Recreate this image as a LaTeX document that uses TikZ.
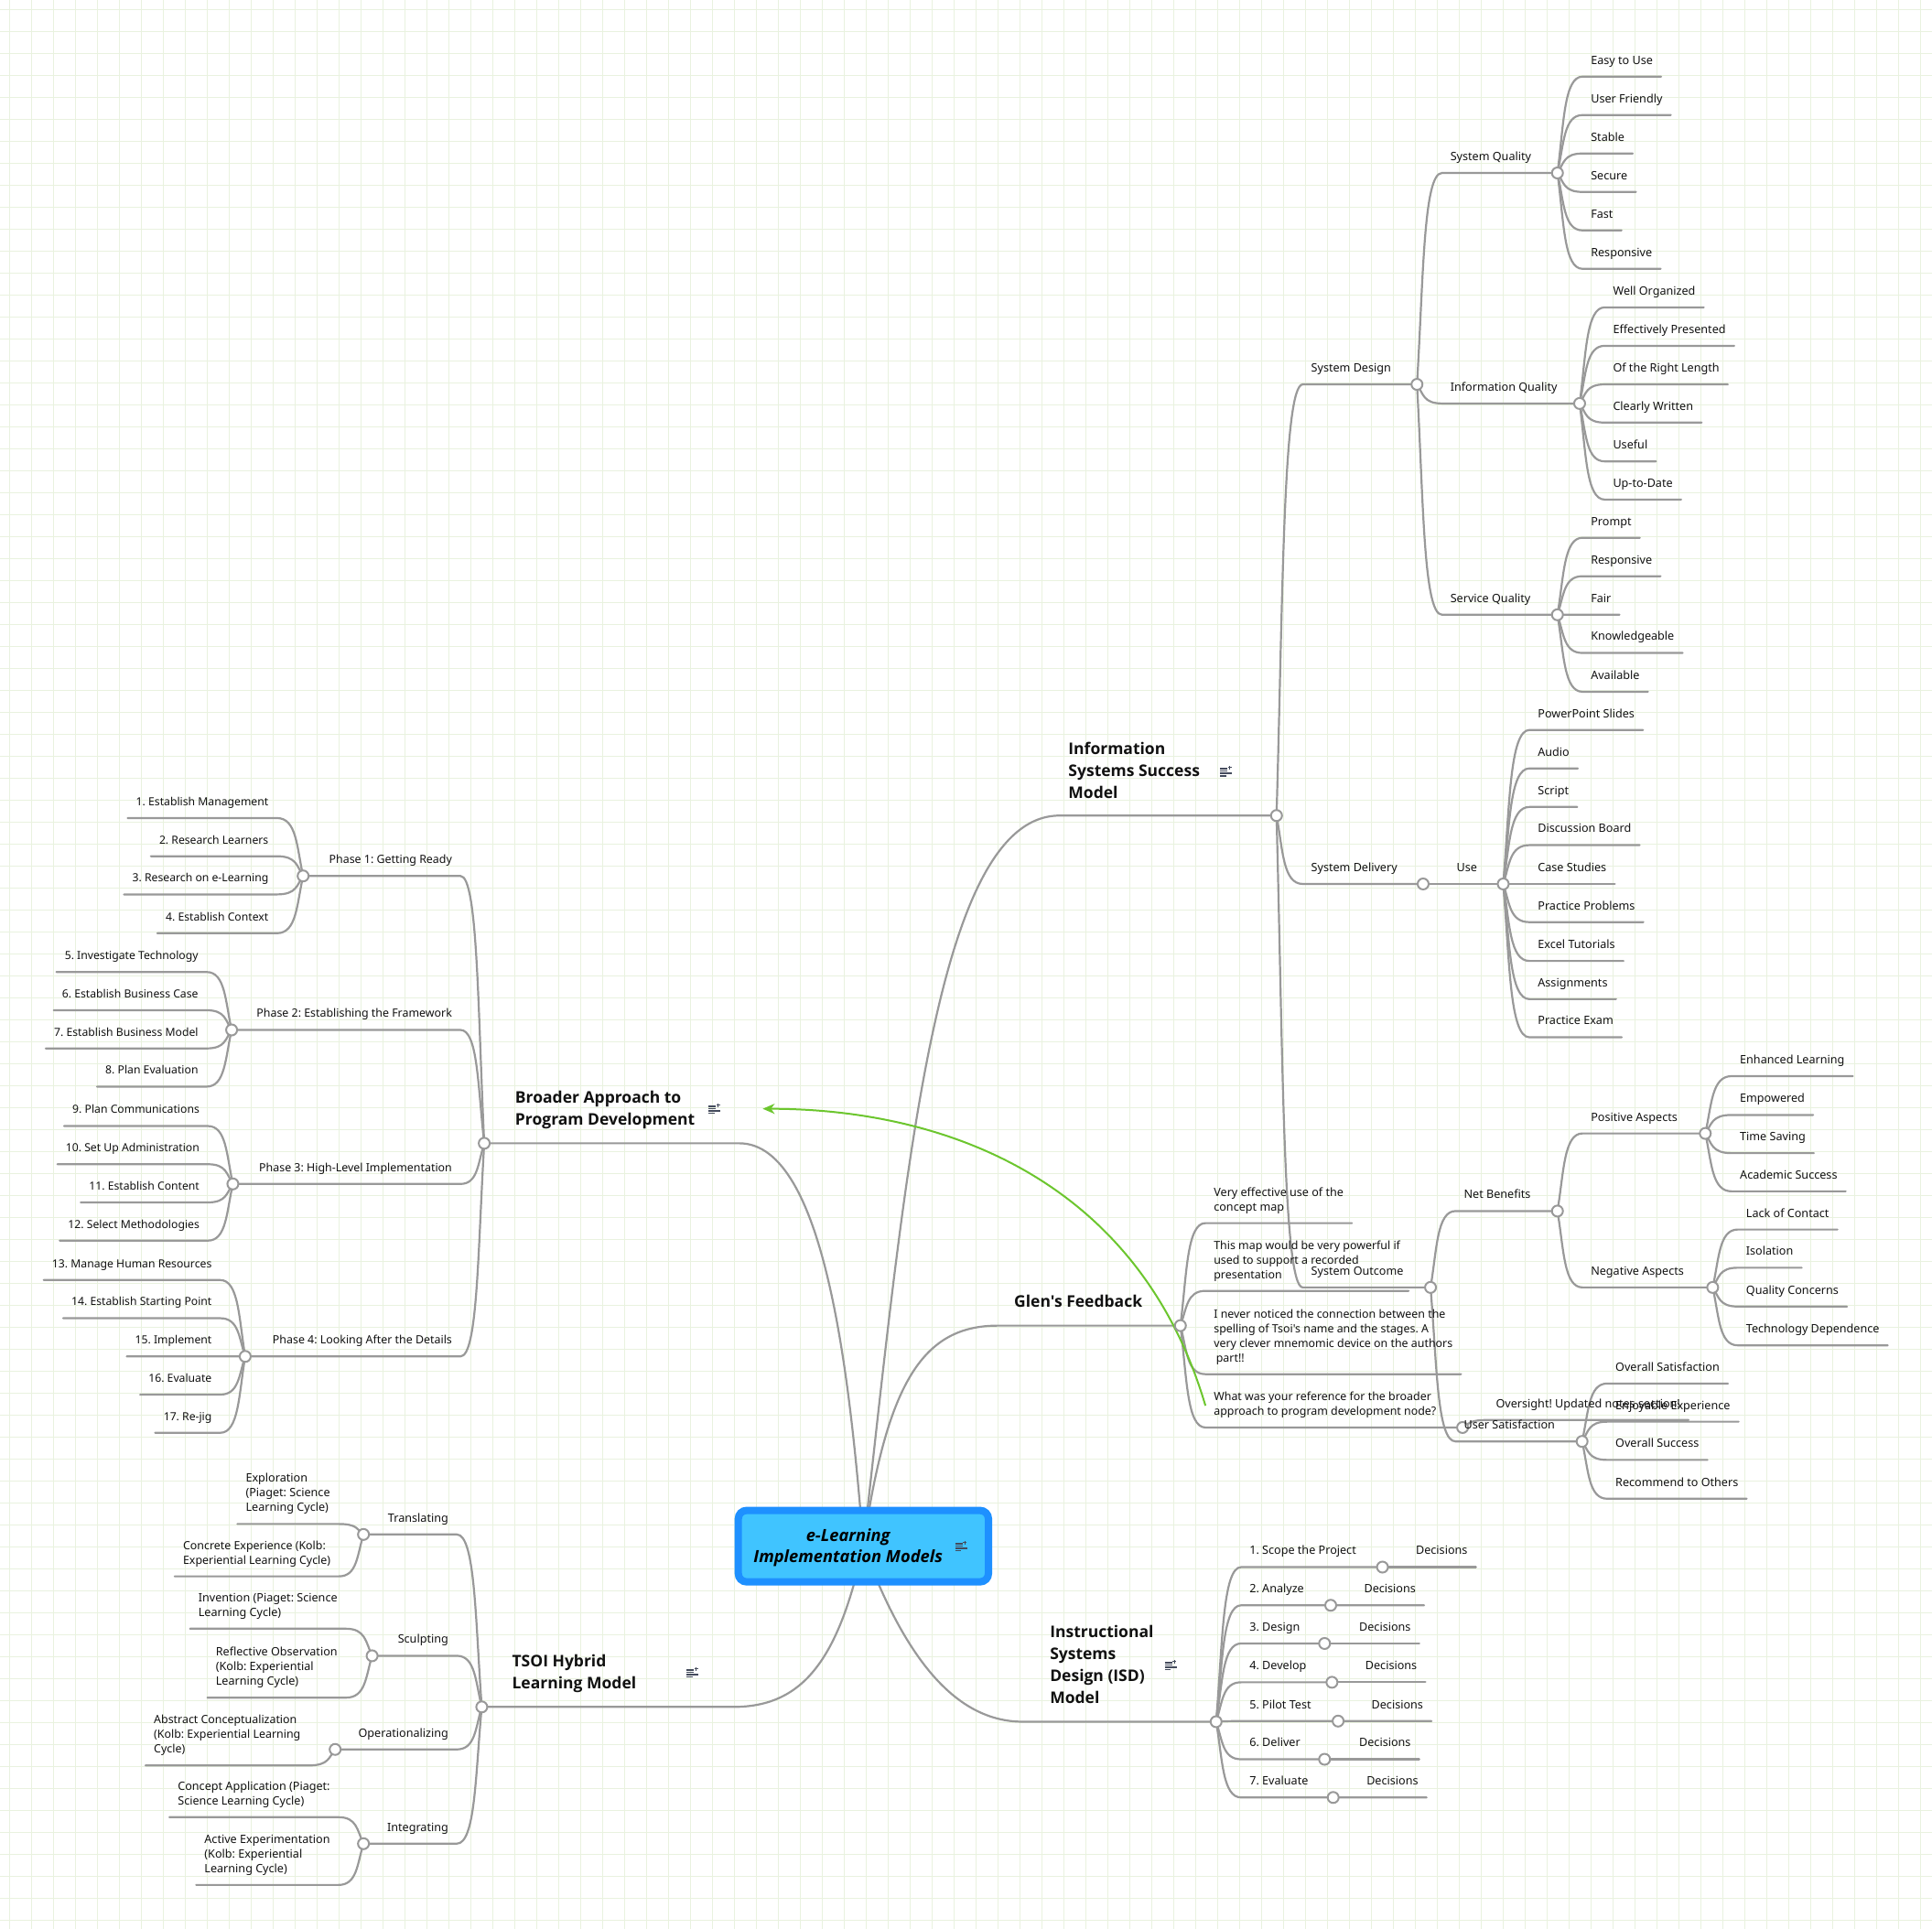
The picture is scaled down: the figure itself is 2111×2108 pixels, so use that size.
\documentclass[tikz,border=0pt]{standalone}
\usepackage{fontspec}
\usetikzlibrary{calc,arrows.meta}
\newfontfamily\mapfont{Noto Sans}
\newfontfamily\titlefont{Open Sans}
\newcommand\nsz{\fontsize{12.2}{16}\selectfont}
\newcommand\ssz{\fontsize{12.4}{16}\selectfont}
\definecolor{gridc}{HTML}{E9F2DF}
\definecolor{linec}{HTML}{999999}
\definecolor{ink}{HTML}{111111}
\definecolor{rootborder}{HTML}{1E90FF}
\definecolor{rootfill}{HTML}{40C4FF}
\definecolor{arrowc}{HTML}{6CC62E}
\definecolor{iconc}{HTML}{444B5C}
\pgfdeclarelayer{front}
\pgfdeclarelayer{labels}
\pgfsetlayers{main,front,labels}
\tikzset{
  x=1.3463pt,y=-1.3463pt,
  conn/.style={draw=linec,line width=2.2pt,line cap=round},
  branch/.style={to path={let \p1=(\tikztostart),\p2=(\tikztotarget),\n1={(\x2>\x1)*2-1} in
     .. controls ({\x1+\n1*7pt},{0.5*\y1+0.5*\y2}) and ({\x1+\n1*7pt},\y2) .. (\tikztotarget)}},
  leaf/.style={font=\mapfont\frenchspacing\fontsize{12.6}{16}\selectfont,align=left,text=ink,inner xsep=9pt,inner ysep=8.4pt,
     execute at end node={\vrule height 0pt depth 5pt width 0pt}},
  topic/.style={font=\titlefont\bfseries\fontsize{17.5}{24}\selectfont,align=left,text=ink,inner xsep=0pt,inner ysep=15pt,
     execute at end node={\vrule height 0pt depth 5pt width 0pt}},
  jn/.style={circle,draw=linec,fill=white,line width=2pt,minimum size=12pt,inner sep=0pt},
  rootbox/.style={rectangle,rounded corners=9pt,draw=rootborder,fill=rootfill,line width=8pt,minimum width=273.3pt,minimum height=78pt,inner sep=0pt},
  rootlabel/.style={font=\titlefont\bfseries\itshape\fontsize{18.3}{23}\selectfont,align=center,text=black,inner sep=0pt},
  note/.pic={
    \draw[iconc,line width=1.5pt] (-6.5pt,2.7pt) -- (1.5pt,2.7pt) (-6.5pt,0.2pt) -- (1.5pt,0.2pt)
       (-6.5pt,-2.4pt) -- (6.5pt,-2.4pt) (-6.5pt,-5pt) -- (0pt,-5pt);
    \draw[iconc,line width=1pt] (2pt,3.8pt) -- (6pt,3.8pt) (4pt,1.8pt) -- (4pt,5.8pt);
  }
}
\newcommand\rleaf[5]{%
  \begin{pgfonlayer}{labels}\node[leaf,anchor=south west] (#1) at ({#3-6.685},#4) {#5};\end{pgfonlayer}
  \draw[conn] (#2.center) to[branch] (#1.south west) -- (#1.south east);}
\newcommand\lleaf[5]{%
  \begin{pgfonlayer}{labels}\node[leaf,anchor=south east] (#1) at ({#3+6.685},#4) {#5};\end{pgfonlayer}
  \draw[conn] (#2.center) to[branch] (#1.south east) -- (#1.south west);}
\newcommand\rmid[6]{%
  \begin{pgfonlayer}{labels}\node[leaf,anchor=south west] (#1) at ({#3-6.685},#4) {#5};\end{pgfonlayer}
  \begin{pgfonlayer}{front}\node[jn] (#1j) at (#6,#4) {};\end{pgfonlayer}
  \draw[conn] (#2.center) to[branch] (#1.south west) -- (#1j.center);}
\newcommand\lmid[6]{%
  \begin{pgfonlayer}{labels}\node[leaf,anchor=south east] (#1) at ({#3+6.685},#4) {#5};\end{pgfonlayer}
  \begin{pgfonlayer}{front}\node[jn] (#1j) at (#6,#4) {};\end{pgfonlayer}
  \draw[conn] (#2.center) to[branch] (#1.south east) -- (#1j.center);}
\begin{document}
\begin{tikzpicture}
\useasboundingbox (0pt,0pt) rectangle (2111pt,-2108pt);
\fill[white] (0pt,0pt) rectangle (2111pt,-2108pt);
\foreach \i in {0,...,87} {
  \draw[gridc,line width=1.2pt] ({(10.7+24*\i)*1pt},0pt) -- ({(10.7+24*\i)*1pt},-2108pt);
  \draw[gridc,line width=1.2pt] (0pt,{(-10.7-24*\i)*1pt}) -- (2111pt,{(-10.7-24*\i)*1pt});
}
% root
\begin{pgfonlayer}{front}
\node[rootbox] (root) at (700.7,1255) {};
\node[rootlabel] (rootname) at (688.3,1256) {e-Learning\\Implementation Models};
\pic at (780,1255) {note};
\end{pgfonlayer}
% Information Systems Success Model
\node[topic,anchor=south west] (isl) at (867,663) {Information\\Systems Success\\Model};
\pic at (995,626) {note};
\begin{pgfonlayer}{front}\node[jn] (isj) at (1036,662) {};\end{pgfonlayer}
\coordinate (isb) at (860,662);
\draw[conn] (root.center) .. controls (735,950) and (760,662) .. (isb) -- (isj.center);
\rmid{sd}{isj}{1064}{312}{System Design}{1150}
\rmid{sq}{sdj}{1177}{140.4}{System Quality}{1264}
\rleaf{a1}{sqj}{1291}{62.2}{Easy to Use}
\rleaf{a2}{sqj}{1291}{93.4}{User Friendly}
\rleaf{a3}{sqj}{1291}{124.6}{Stable}
\rleaf{a4}{sqj}{1291}{155.8}{Secure}
\rleaf{a5}{sqj}{1291}{187}{Fast}
\rleaf{a6}{sqj}{1291}{218.2}{Responsive}
\rmid{iq}{sdj}{1177}{327.5}{Information Quality}{1282}
\rleaf{b1}{iqj}{1309}{249.5}{Well Organized}
\rleaf{b2}{iqj}{1309}{280.7}{Effectively Presented}
\rleaf{b3}{iqj}{1309}{312}{Of the Right Length}
\rleaf{b4}{iqj}{1309}{343}{Clearly Written}
\rleaf{b5}{iqj}{1309}{374.5}{Useful}
\rleaf{b6}{iqj}{1309}{405.5}{Up-to-Date}
\rmid{svq}{sdj}{1177}{499}{Service Quality}{1264}
\rleaf{c1}{svqj}{1291}{436.5}{Prompt}
\rleaf{c2}{svqj}{1291}{467.7}{Responsive}
\rleaf{c3}{svqj}{1291}{499}{Fair}
\rleaf{c4}{svqj}{1291}{530}{Knowledgeable}
\rleaf{c5}{svqj}{1291}{561.5}{Available}
\rmid{sdel}{isj}{1064}{717.5}{System Delivery}{1155}
\rmid{use}{sdelj}{1182}{717.5}{Use}{1220}
\rleaf{d1}{usej}{1248}{592.5}{PowerPoint Slides}
\rleaf{d2}{usej}{1248}{623.7}{Audio}
\rleaf{d3}{usej}{1248}{655}{Script}
\rleaf{d4}{usej}{1248}{686}{Discussion Board}
\rleaf{d5}{usej}{1248}{717.5}{Case Studies}
\rleaf{d6}{usej}{1248}{748.5}{Practice Problems}
\rleaf{d7}{usej}{1248}{780}{Excel Tutorials}
\rleaf{d8}{usej}{1248}{811}{Assignments}
\rleaf{d9}{usej}{1248}{842}{Practice Exam}
\rmid{so}{isj}{1064}{1045}{System Outcome}{1161}
\rmid{nb}{soj}{1188}{983}{Net Benefits}{1264}
\rmid{pa}{nbj}{1291}{920}{Positive Aspects}{1384}
\rleaf{e1}{paj}{1412}{873.5}{Enhanced Learning}
\rleaf{e2}{paj}{1412}{905}{Empowered}
\rleaf{e3}{paj}{1412}{936}{Time Saving}
\rleaf{e4}{paj}{1412}{967}{Academic Success}
\rmid{na}{nbj}{1291}{1045}{Negative Aspects}{1390}
\rleaf{f1}{naj}{1417}{998}{Lack of Contact}
\rleaf{f2}{naj}{1417}{1029}{Isolation}
\rleaf{f3}{naj}{1417}{1060.5}{Quality Concerns}
\rleaf{f4}{naj}{1417}{1092}{Technology Dependence}
\rmid{us}{soj}{1188}{1170}{User Satisfaction}{1284}
\rleaf{g1}{usj}{1311}{1123}{Overall Satisfaction}
\rleaf{g2}{usj}{1311}{1154}{Enjoyable Experience}
\rleaf{g3}{usj}{1311}{1185}{Overall Success}
\rleaf{g4}{usj}{1311}{1216.5}{Recommend to Others}
% Glen's Feedback
\node[topic,anchor=south west] (gl) at (823,1076) {Glen's Feedback};
\begin{pgfonlayer}{front}\node[jn] (glj) at (958,1076) {};\end{pgfonlayer}
\coordinate (glb) at (810,1076);
\draw[conn] (root.center) .. controls (720,1120) and (750,1076) .. (glb) -- (glj.center);
\rleaf{h1}{glj}{985}{992.8}{Very effective use of the\\concept map}
\rleaf{h2}{glj}{985}{1047.8}{\ssz This map would be very powerful if\\\ssz used to support a recorded\\\ssz presentation}
\rleaf{h3}{glj}{985}{1115.4}{\ssz I never noticed the connection between the\\\ssz spelling of Tsoi's name and the stages. A\\\ssz very clever mnemomic device on the authors\\\ssz\hspace*{2.5pt}part!!}
\rmid{fq}{glj}{985}{1158.7}{\ssz What was your reference for the broader\\\ssz approach to program development node?}{1187}
\rleaf{h5}{fqj}{1214}{1152.6}{Oversight! Updated notes section!}
% Broader Approach
\node[topic,anchor=south west] (br) at (418,928) {Broader Approach to\\Program Development};
\pic at (580,900) {note};
\begin{pgfonlayer}{front}\node[jn] (brj) at (393,928) {};\end{pgfonlayer}
\coordinate (brb) at (600,928);
\draw[conn] (root.center) .. controls (690,1120) and (670,928) .. (brb) -- (brj.center);
\lmid{p1}{brj}{367}{711}{\ssz Phase 1: Getting Ready}{246}
\lleaf{i1}{p1j}{218}{664}{\nsz 1. Establish Management}
\lleaf{i2}{p1j}{218}{695}{\nsz 2. Research Learners}
\lleaf{i3}{p1j}{218}{726}{\nsz 3. Research on e-Learning}
\lleaf{i4}{p1j}{218}{757.5}{\nsz 4. Establish Context}
\lmid{p2}{brj}{367}{836}{\ssz Phase 2: Establishing the Framework}{188}
\lleaf{i5}{p2j}{161}{789}{\nsz 5. Investigate Technology}
\lleaf{i6}{p2j}{161}{820}{\nsz 6. Establish Business Case}
\lleaf{i7}{p2j}{161}{851}{\nsz 7. Establish Business Model}
\lleaf{i8}{p2j}{161}{882}{\nsz 8. Plan Evaluation}
\lmid{p3}{brj}{367}{961}{\ssz Phase 3: High-Level Implementation}{189}
\lleaf{i9}{p3j}{162}{914}{\nsz 9. Plan Communications}
\lleaf{i10}{p3j}{162}{945}{\nsz 10. Set Up Administration}
\lleaf{i11}{p3j}{162}{976}{\nsz 11. Establish Content}
\lleaf{i12}{p3j}{162}{1007}{\nsz 12. Select Methodologies}
\lmid{p4}{brj}{367}{1101}{\ssz Phase 4: Looking After the Details}{199}
\lleaf{i13}{p4j}{172}{1039}{\nsz 13. Manage Human Resources}
\lleaf{i14}{p4j}{172}{1070}{\nsz 14. Establish Starting Point}
\lleaf{i15}{p4j}{172}{1101}{\nsz 15. Implement}
\lleaf{i16}{p4j}{172}{1132}{\nsz 16. Evaluate}
\lleaf{i17}{p4j}{172}{1163}{\nsz 17. Re-jig}
% TSOI
\node[topic,anchor=south west] (ts) at (415.5,1385.5) {TSOI Hybrid\\Learning Model};
\pic at (562,1357.5) {note};
\begin{pgfonlayer}{front}\node[jn] (tsj) at (391,1385.5) {};\end{pgfonlayer}
\coordinate (tsb) at (595,1385.5);
\draw[conn] (root.center) .. controls (680,1350) and (650,1385.5) .. (tsb) -- (tsj.center);
\lmid{t1}{tsj}{364}{1245.5}{Translating}{295}
\lleaf{k1}{t1j}{268}{1237}{Exploration\\(Piaget: Science\\Learning Cycle)}
\lleaf{k2}{t1j}{268.4}{1279.5}{\ssz Concrete Experience (Kolb:\\\ssz Experiential Learning Cycle)}
\lmid{t2}{tsj}{364}{1344}{Sculpting}{302}
\lleaf{k3}{t2j}{274}{1322}{Invention (Piaget: Science\\Learning Cycle)}
\lleaf{k4}{t2j}{274}{1378}{Reflective Observation\\(Kolb: Experiential\\Learning Cycle)}
\lmid{t3}{tsj}{364}{1420}{Operationalizing}{272}
\lleaf{k5}{t3j}{244}{1433}{\ssz Abstract Conceptualization\\\ssz (Kolb: Experiential Learning\\\ssz Cycle)}
\lmid{t4}{tsj}{364}{1496.5}{Integrating}{295}
\lleaf{k6}{t4j}{268}{1475}{Concept Application (Piaget:\\Science Learning Cycle)}
\lleaf{k7}{t4j}{268}{1530}{Active Experimentation\\(Kolb: Experiential\\Learning Cycle)}
% ISD
\node[topic,anchor=south west] (isd) at (852,1397.5) {Instructional\\Systems\\Design (ISD)\\Model};
\pic at (950,1351.5) {note};
\begin{pgfonlayer}{front}\node[jn] (isdj) at (987,1397.5) {};\end{pgfonlayer}
\coordinate (isdb) at (830,1397.5);
\draw[conn] (root.center) .. controls (734,1345) and (775,1397.5) .. (isdb) -- (isdj.center);
\rmid{m1}{isdj}{1014}{1272}{1. Scope the Project}{1122}
\rleaf{n1}{m1j}{1149}{1272}{Decisions}
\rmid{m2}{isdj}{1014}{1303}{2. Analyze}{1080}
\rleaf{n2}{m2j}{1107}{1303}{Decisions}
\rmid{m3}{isdj}{1014}{1334}{3. Design}{1075}
\rleaf{n3}{m3j}{1103}{1334}{Decisions}
\rmid{m4}{isdj}{1014}{1365.5}{4. Develop}{1081}
\rleaf{n4}{m4j}{1108}{1365.5}{Decisions}
\rmid{m5}{isdj}{1014}{1397}{5. Pilot Test}{1086}
\rleaf{n5}{m5j}{1113}{1397}{Decisions}
\rmid{m6}{isdj}{1014}{1428}{6. Deliver}{1075}
\rleaf{n6}{m6j}{1103}{1428}{Decisions}
\rmid{m7}{isdj}{1014}{1459}{7. Evaluate}{1082}
\rleaf{n7}{m7j}{1109}{1459}{Decisions}
% relation arrow
\coordinate (arrowend) at (619,900);
\draw[arrowc,line width=2pt,-{Stealth[length=13pt,width=11pt,inset=4pt]}] (fq.west) .. controls (925,960) and (770,900) .. (arrowend);
\end{tikzpicture}
\end{document}
